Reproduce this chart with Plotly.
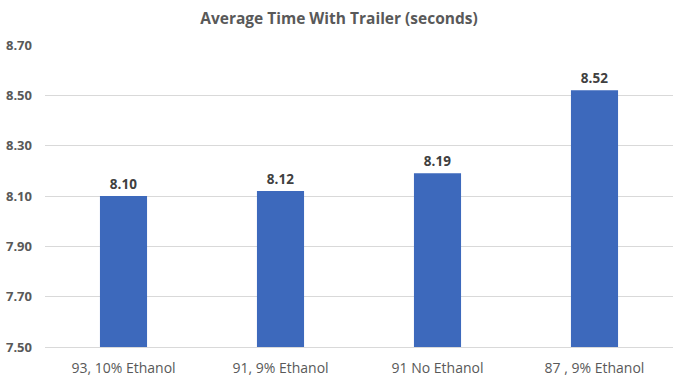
import plotly.graph_objects as go

categories = ["93, 10% Ethanol", "91, 9% Ethanol", "91 No Ethanol", "87 , 9% Ethanol"]
values = [8.10, 8.12, 8.19, 8.52]
tick_vals = [7.50, 7.70, 7.90, 8.10, 8.30, 8.50, 8.70]
tick_text = ["7.50", "7.70", "7.90", "8.10", "8.30", "8.50", "8.70"]
title = "Average Time With Trailer (seconds)"

fig = go.Figure(go.Bar(
    x=categories, y=values,
    marker=dict(color="#3D69BC", line=dict(width=0)),
    width=0.30,
    text=[f"{v:.2f}" for v in values],
    textposition="outside",
    textfont=dict(family="Open Sans", size=13.5, color="#404040", weight="bold"),
    cliponaxis=False,
))

fig.update_layout(
    width=678, height=381,
    margin=dict(l=45, r=5, t=45, b=34),
    paper_bgcolor="white", plot_bgcolor="white",
    title=dict(text=title, x=0.5, xanchor="center", y=0.952, yanchor="middle",
               font=dict(family="Open Sans", size=15.5, color="#595959", weight="bold")),
    showlegend=False,
    bargap=0.7,
)
fig.update_yaxes(range=[7.5, 8.7], tickvals=tick_vals, ticktext=tick_text,
                 showgrid=True, gridcolor="#D9D9D9", gridwidth=1,
                 zeroline=False, showline=False, ticks="",
                 tickfont=dict(family="Open Sans", size=13, color="#595959", weight="bold"),
                 ticklabelstandoff=12)
fig.update_xaxes(showgrid=False, showline=True, linecolor="#D9D9D9", ticks="",
                 tickfont=dict(family="Open Sans", size=14, color="#595959"),
                 ticklabelstandoff=8)

fig.write_html("out.html")
